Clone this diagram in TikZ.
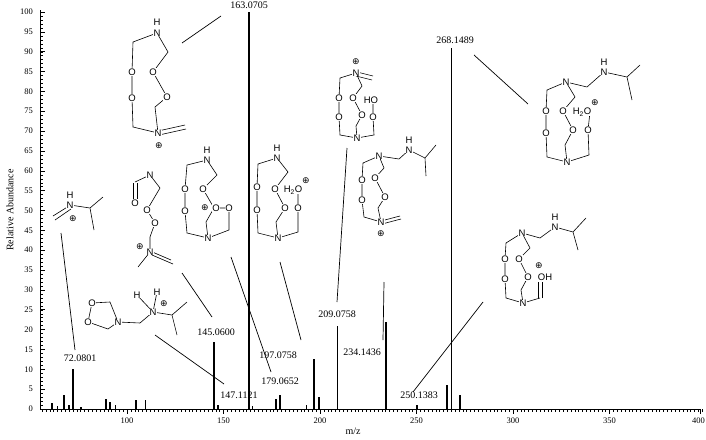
\documentclass[tikz,border=0pt]{standalone}
\usepackage{fontspec}
\setmainfont{Liberation Serif}
\newfontfamily\molf{Liberation Sans}
\newfontfamily\djf{DejaVu Sans}
\begin{document}
\begin{tikzpicture}[x=1pt,y=-1pt,
  peak/.style={line width=1.8pt},
  lead/.style={line width=0.7pt},
  bond/.style={line width=0.6pt},
  atom/.style={fill=white,inner sep=0.2pt,font=\molf\fontsize{9.5}{10}\selectfont},
  plus/.style={inner sep=0pt,font=\djf\fontsize{9}{10}\selectfont},
  lab/.style={font=\fontsize{10}{11}\selectfont,inner sep=0pt}]
\useasboundingbox[fill=white] (0,0) rectangle (706,439);
\newcommand\atm[3]{\node[atom] at (#1,#2) {#3};}
\newcommand\pls[2]{\node[plus] at (#1,#2) {⊕};}
% axes
\draw[line width=0.8pt] (40,10) -- (40,409) -- (701,409);
\foreach \v in {0,1,...,100}{\draw[line width=0.4pt] (40,{409-\v*3.97}) -- (43,{409-\v*3.97});}
\foreach \v in {0,5,...,100}{\draw[line width=0.6pt] (40,{409-\v*3.97}) -- (45,{409-\v*3.97});
  \node[lab,anchor=east,font=\fontsize{8.5}{9}\selectfont] at (33,{409-\v*3.97}) {\v};}
\foreach \m in {56,58,...,400}{\draw[line width=0.4pt] ({127+(\m-100)*1.93},409) -- ++(0,3);}
\foreach \m in {100,150,...,350}{\draw[line width=0.6pt] ({127+(\m-100)*1.93},409) -- ++(0,5);
  \node[lab,font=\fontsize{8.5}{9}\selectfont] at ({127+(\m-100)*1.93},421) {\m};}
\draw[line width=0.6pt] (700,409) -- ++(0,5);
\node[lab,font=\fontsize{8.5}{9}\selectfont,anchor=east] at (705,421) {400};
\node[lab] (mz) at (353,431) {m/z};
\node[lab] (ra) at (10,210) [rotate=90] {Relative Abundance};
% peaks
\foreach \m/\h in {61/1.5,64/0.8,67.5/3.5,70/1,72.08/10,76/0.5,89/2.5,91/1.8,94/1,104.7/2.3,109.6/2.3,
  145.06/17,147.1/1,163.07/100,165/0.8,177/2.5,179.07/3.5,193/1,197.08/12.5,199.5/3,209.08/21,
  234.14/22,250.14/1,266/6,268.15/91,272.5/3.5}
  {\draw[peak] ({127+(\m-100)*1.93},409) -- ++(0,{-\h*3.97});}
% peak labels
\node[lab] (l163) at (249,5) {163.0705};
\node[lab] (l268) at (455,40) {268.1489};
\node[lab] (l72) at (80,358) {72.0801};
\node[lab] (l145) at (216,332) {145.0600};
\node[lab] (l147) at (239,395) {147.1121};
\node[lab] (l179) at (280,381) {179.0652};
\node[lab] (l197) at (278,355) {197.0758};
\node[lab] (l209) at (337,314) {209.0758};
\node[lab] (l234) at (362,352) {234.1436};
\node[lab] (l250) at (419,395) {250.1383};
% leader lines
\draw[lead] (182,43) -- (221,16);
\draw[lead] (474,55) -- (528,104);
\draw[lead] (61,233) -- (75,350);
\draw[lead] (182,273) -- (212,317);
\draw[lead] (231,257) -- (271,372);
\draw[lead] (280,262) -- (301,340);
\draw[lead] (347,148) -- (337,302);
\draw[lead] (384,282) -- (383,340);
\draw[lead] (155,335) -- (224,384);
\draw[lead] (483,302) -- (413,392);
% molecule A (163)
\draw[bond] (157,33) -- (168,52) -- (153,72) -- (167,97) -- (155,107) -- (158,133);
\draw[bond] (157,33) -- (133,42) -- (132,72) -- (132,98) -- (133,127) -- (158,133);
\draw[bond] (158,131) -- (185,125) (159,135) -- (186,129);
\atm{157}{33}{N}\atm{157}{22}{H}\atm{158}{133}{N}\atm{153}{72}{O}\atm{167}{97}{O}\atm{132}{72}{O}\atm{132}{98}{O}
\pls{159}{146}
% molecule B (72)
\draw[bond] (70,205) -- (90,208) -- (103,197) (90,208) -- (94,230);
\draw[bond] (69,206) -- (53,216) (71,209) -- (55,220);
\atm{70}{205}{N}\atm{70}{195}{H}\pls{73}{219}
% molecule C
\draw[bond] (135,182) -- (150,175) -- (160,188) -- (147,210) -- (155,223) -- (150,237) -- (150,252) -- (138,267);
\draw[bond] (133,183) -- (133,202) (137,183) -- (137,202);
\draw[bond] (150,251) -- (171,260) (152,255) -- (173,264);
\atm{150}{175}{N}\atm{135}{203}{O}\atm{147}{210}{O}\atm{155}{223}{O}\atm{150}{252}{N}\pls{140}{247}
% molecule D (179)
\draw[bond] (207,160) -- (187,165) -- (185,189) -- (185,211) -- (187,233) -- (208,238);
\draw[bond] (207,160) -- (217,175) -- (203,189) -- (214,208) -- (229,208) -- (229,230) -- (208,238);
\draw[bond] (214,208) -- (206,222) -- (208,238);
\atm{207}{160}{N}\atm{207}{150}{H}\atm{208}{238}{N}\atm{185}{189}{O}\atm{185}{211}{O}\atm{203}{189}{O}\atm{216}{208}{O}\atm{229}{208}{O}\pls{205}{208}
% molecule E (197)
\draw[bond] (277,158) -- (258,164) -- (257,187) -- (257,210) -- (258,233) -- (278,238);
\draw[bond] (277,158) -- (288,172) -- (275,189) -- (285,208) -- (276,222) -- (278,238);
\draw[bond] (298,190) -- (298,208) -- (298,232) -- (278,238);
\atm{277}{158}{N}\atm{277}{148}{H}\atm{278}{238}{N}\atm{257}{187}{O}\atm{257}{210}{O}\atm{275}{189}{O}\atm{285}{208}{O}\atm{298}{208}{O}
\node[atom] at (293,190) {H\textsubscript{2}O};\pls{306}{181}
% molecule F (209)
\draw[bond] (356,73) -- (340,78) -- (339,98) -- (339,117) -- (340,135) -- (357,138);
\draw[bond] (356,73) -- (362,86) -- (353,98) -- (362,115) -- (356,126) -- (357,138);
\draw[bond] (373,100) -- (373,117) -- (374,135) -- (357,138);
\draw[bond] (357,72) -- (373,76) (356,76) -- (372,80);
\atm{356}{73}{N}\pls{356}{62}\atm{339}{98}{O}\atm{339}{117}{O}\atm{353}{98}{O}\atm{362}{115}{O}\atm{371}{100}{HO}\atm{373}{117}{O}\atm{357}{138}{N}
% molecule G (234)
\draw[bond] (379,156) -- (399,159) -- (409,150) -- (425,158) -- (436,145) (425,158) -- (426,176);
\draw[bond] (379,156) -- (363,163) -- (362,180) -- (362,200) -- (364,217) -- (381,222);
\draw[bond] (379,156) -- (384,168) -- (375,178) -- (385,197) -- (378,208) -- (381,222);
\draw[bond] (381,221) -- (400,216) (382,224) -- (401,219);
\atm{379}{156}{N}\atm{409}{150}{N}\atm{409}{140}{H}\atm{362}{180}{O}\atm{362}{200}{O}\atm{375}{178}{O}\atm{385}{197}{O}\atm{381}{222}{N}\pls{381}{234}
% molecule H (268)
\draw[bond] (566,82) -- (587,87) -- (604,72) -- (627,77) -- (640,65) (627,77) -- (632,100);
\draw[bond] (566,82) -- (547,90) -- (546,111) -- (546,133) -- (547,157) -- (567,162);
\draw[bond] (566,82) -- (575,97) -- (563,111) -- (573,130) -- (565,145) -- (567,162);
\draw[bond] (590,112) -- (588,130) -- (589,155) -- (567,162);
\atm{566}{82}{N}\atm{604}{72}{N}\atm{604}{62}{H}\atm{546}{111}{O}\atm{546}{133}{O}\atm{563}{111}{O}\atm{573}{130}{O}\atm{588}{130}{O}\atm{567}{162}{N}
\node[atom] at (582,112) {H\textsubscript{2}O};\pls{595}{103}
% molecule I (250)
\draw[bond] (522,233) -- (540,238) -- (555,227) -- (573,232) -- (586,218) (573,232) -- (578,250);
\draw[bond] (522,233) -- (506,243) -- (505,259) -- (505,279) -- (506,298) -- (523,303);
\draw[bond] (522,233) -- (530,248) -- (519,259) -- (528,277) -- (521,290) -- (523,303);
\draw[bond] (523,303) -- (540,298);
\draw[bond] (538,298) -- (538,282) (542,298) -- (542,282);
\atm{522}{233}{N}\atm{555}{227}{N}\atm{555}{217}{H}\atm{505}{259}{O}\atm{505}{279}{O}\atm{519}{259}{O}\atm{528}{277}{O}\atm{523}{303}{N}\atm{545}{277}{OH}\pls{539}{266}
% molecule J (145)
\draw[bond] (92,303) -- (110,302) -- (118,322) -- (108,329) -- (88,322) -- (92,303);
\draw[bond] (118,322) -- (140,323) -- (153,312) -- (172,315) -- (187,302) (172,315) -- (177,335);
\draw[bond] (153,312) -- (137,295) (153,312) -- (157,292);
\atm{92}{303}{O}\atm{88}{322}{O}\atm{118}{322}{N}\atm{153}{312}{N}\atm{137}{295}{H}\atm{157}{292}{H}\pls{164}{304}
\end{tikzpicture}
\end{document}
